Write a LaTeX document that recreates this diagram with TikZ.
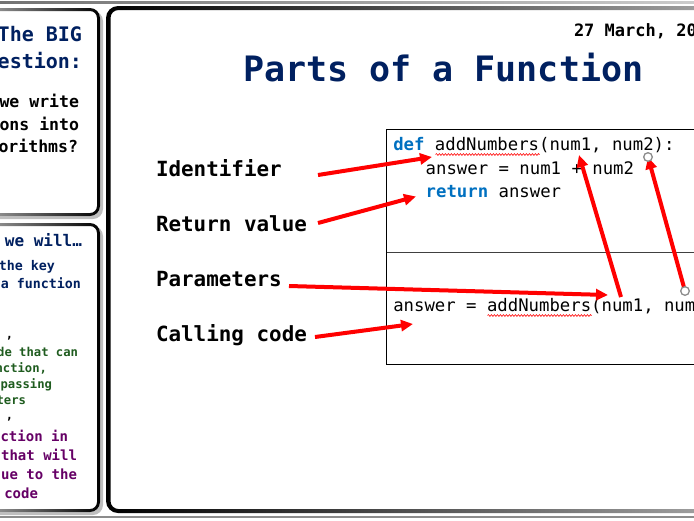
\documentclass[tikz,border=0pt]{standalone}
\usepackage{fontspec}
\setmonofont{DejaVu Sans Mono}
\usetikzlibrary{arrows.meta,decorations.pathmorphing}
\definecolor{navy}{HTML}{002060}
\definecolor{kwblue}{HTML}{0070C0}
\definecolor{dkgreen}{HTML}{1F5C1F}
\definecolor{dkpurple}{HTML}{660066}
\newcommand{\fs}[1]{\fontsize{#1}{#1}\selectfont}
\begin{document}
\begin{tikzpicture}[x=1pt,y=-1pt,
  txt/.style={inner sep=0pt, outer sep=0pt},
  lbl/.style={txt, anchor=base west, font=\ttfamily\bfseries\fs{20.9}},
  codeline/.style={txt, anchor=base west, font=\ttfamily\fs{17.3}},
  side/.style={txt, anchor=base east, font=\ttfamily\bfseries\fs{#1}},
  redarrow/.style={draw=red, line width=4pt, -{Triangle[length=12pt,width=11pt]}},
  wavy/.style={draw=red, line width=0.6pt, decorate, decoration={snake, amplitude=0.9pt, segment length=3pt}},
  handle/.style={draw=black!45, fill=white, line width=1.3pt}
]
\useasboundingbox (0,0) rectangle (694,520);
\clip (0,0) rectangle (694,520);
% top and bottom gray lines
\shade[left color=black!55, right color=black!20] (0,1) rectangle (694,3.5);
\fill[black!45] (0,516) rectangle (694,518);
% left boxes
\fill[black!25, rounded corners=10] (-20,11) rectangle (103,219);
\fill[white, rounded corners=10] (-20,8) rectangle (100,216);
\shade[left color=black!35, right color=black, even odd rule]
  [rounded corners=10] (-20,8) rectangle (100,216)
  [rounded corners=7] (-20,11) rectangle (97,213);
\fill[black!25, rounded corners=10] (-20,226) rectangle (103,515);
\fill[white, rounded corners=10] (-20,223) rectangle (100,512);
\shade[left color=black!35, right color=black, even odd rule]
  [rounded corners=10] (-20,223) rectangle (100,512)
  [rounded corners=7] (-20,226) rectangle (97,509);
% main frame
\shade[left color=black, middle color=black, right color=black!35, even odd rule]
  [rounded corners=12] (106,6) rectangle (730,513)
  [rounded corners=8] (110.5,10) rectangle (726,509);
% left panel texts
\node[side=20, text=navy] (q1) at (82,41) {The BIG};
\node[side=20, text=navy] (q2) at (82,68) {estion:};
\node[side=16.5] (b1) at (79,107) {we write};
\node[side=16.5] (b2) at (79,130) {ons into};
\node[side=16.5] (b3) at (78,152) {orithms?};
\node[side=16, text=navy] (w0) at (82,246) {we will…};
\node[side=13.3, text=navy] (w1) at (55,270) {the key};
\node[side=13.3, text=navy] (w2) at (81,288) {a function};
\node[side=12] (c1) at (13,338) {,};
\node[side=12.2, text=dkgreen] (g1) at (78,356) {de that can};
\node[side=12.2, text=dkgreen] (g2) at (47,372) {nction,};
\node[side=12.2, text=dkgreen] (g3) at (52,388) {passing};
\node[side=12.2, text=dkgreen] (g4) at (26,404) {ters};
\node[side=12] (c2) at (13,419) {,};
\node[side=14, text=dkpurple] (p1) at (68,441) {ction in};
\node[side=14, text=dkpurple] (p2) at (77,460) {that will};
\node[side=14, text=dkpurple] (p3) at (77,479) {ue to the};
\node[side=14, text=dkpurple] (p4) at (38,498) {code};
% header
\node[txt, anchor=base west, font=\ttfamily\bfseries\fs{17}] (date) at (574,36) {27 March, 20};
\node[txt, anchor=base west, font=\ttfamily\bfseries\fs{35}, text=navy] (title) at (243,81) {Parts of a Function};
% code box
\draw[line width=1pt] (386.7,129) rectangle (720,364);
\draw[line width=1pt, black!75] (386.7,252.7) -- (720,252.7);
\node[codeline] (l1) at (393.3,150.7) {\textcolor{kwblue}{\bfseries def} addNumbers(num1, num2):};
\node[codeline] (l2) at (425.7,174) {answer = num1 + num2};
\node[codeline] (l3) at (425.7,197) {\textcolor{kwblue}{\bfseries return} answer};
\node[codeline] (l4) at (393.3,311.7) {answer = addNumbers(num1, num};
\draw[wavy] (435.5,154.5) -- (539.5,154.5);
\draw[wavy] (487.5,315.5) -- (591.5,315.5);
% labels
\node[lbl] (ident) at (156,176.7) {Identifier};
\node[lbl] (retv) at (156,231.7) {Return value};
\node[lbl] (params) at (156,286.7) {Parameters};
\node[lbl] (calling) at (156,341.7) {Calling code};
% arrow end points
\coordinate (idS) at (318,175);   \coordinate (idE) at (432,157);
\coordinate (rvS) at (318,223);   \coordinate (rvE) at (416,196.5);
\coordinate (paS) at (289,286);   \coordinate (paE) at (608,295);
\coordinate (caS) at (315,337);   \coordinate (caE) at (413,324);
\coordinate (n1S) at (621,297);   \coordinate (n1E) at (579,155);
\coordinate (n2S) at (685,291);   \coordinate (n2E) at (648,157);
\draw[redarrow] (idS) -- (idE);
\draw[redarrow] (rvS) -- (rvE);
\draw[redarrow] (paS) -- (paE);
\draw[redarrow] (caS) -- (caE);
\draw[redarrow] (n1S) -- (n1E);
\draw[redarrow] (n2S) -- (n2E);
\draw[handle] (n2S) circle (4.3);
\draw[handle] (n2E) circle (4.3);
\end{tikzpicture}
\end{document}
